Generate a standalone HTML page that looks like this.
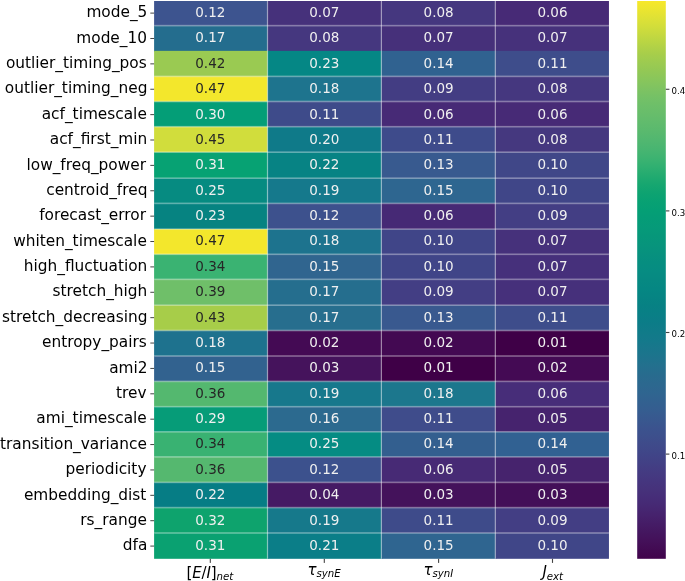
<!DOCTYPE html>
<html><head><meta charset="utf-8"><title>heatmap</title>
<style>html,body{margin:0;padding:0;background:#fff;}body{width:685px;height:581px;overflow:hidden;}svg{display:block;}</style>
</head><body>
<svg width="685" height="581" viewBox="0 0 685 581">
<rect x="0" y="0" width="685" height="581" fill="#ffffff"/>
<rect x="154.10" y="1.00" width="114.40" height="25.65" fill="#3d548f"/>
<rect x="267.50" y="1.00" width="114.90" height="25.65" fill="#46317b"/>
<rect x="381.40" y="1.00" width="114.95" height="25.65" fill="#45377f"/>
<rect x="495.35" y="1.00" width="113.60" height="25.65" fill="#472a76"/>
<rect x="154.10" y="25.65" width="114.40" height="26.20" fill="#246d8e"/>
<rect x="267.50" y="25.65" width="114.90" height="26.20" fill="#45377f"/>
<rect x="381.40" y="25.65" width="114.95" height="26.20" fill="#46307a"/>
<rect x="495.35" y="25.65" width="113.60" height="26.20" fill="#46317b"/>
<rect x="154.10" y="50.85" width="114.40" height="26.55" fill="#9aca52"/>
<rect x="267.50" y="50.85" width="114.90" height="26.55" fill="#058785"/>
<rect x="381.40" y="50.85" width="114.95" height="26.55" fill="#306290"/>
<rect x="495.35" y="50.85" width="113.60" height="26.55" fill="#3e4d8b"/>
<rect x="154.10" y="76.40" width="114.40" height="26.10" fill="#f3e72c"/>
<rect x="267.50" y="76.40" width="114.90" height="26.10" fill="#1e748e"/>
<rect x="381.40" y="76.40" width="114.95" height="26.10" fill="#433d83"/>
<rect x="495.35" y="76.40" width="113.60" height="26.10" fill="#45377f"/>
<rect x="154.10" y="101.50" width="114.40" height="26.20" fill="#049e77"/>
<rect x="267.50" y="101.50" width="114.90" height="26.20" fill="#3e4b8a"/>
<rect x="381.40" y="101.50" width="114.95" height="26.20" fill="#472a76"/>
<rect x="495.35" y="101.50" width="113.60" height="26.20" fill="#472a76"/>
<rect x="154.10" y="126.70" width="114.40" height="26.50" fill="#d1dd3c"/>
<rect x="267.50" y="126.70" width="114.90" height="26.50" fill="#0f7a89"/>
<rect x="381.40" y="126.70" width="114.95" height="26.50" fill="#3e4b8b"/>
<rect x="495.35" y="126.70" width="113.60" height="26.50" fill="#45387f"/>
<rect x="154.10" y="152.20" width="114.40" height="27.00" fill="#07a273"/>
<rect x="267.50" y="152.20" width="114.90" height="27.00" fill="#078384"/>
<rect x="381.40" y="152.20" width="114.95" height="27.00" fill="#385a8f"/>
<rect x="495.35" y="152.20" width="113.60" height="27.00" fill="#404788"/>
<rect x="154.10" y="178.20" width="114.40" height="26.20" fill="#068b81"/>
<rect x="267.50" y="178.20" width="114.90" height="26.20" fill="#15798c"/>
<rect x="381.40" y="178.20" width="114.95" height="26.20" fill="#2e6690"/>
<rect x="495.35" y="178.20" width="113.60" height="26.20" fill="#404688"/>
<rect x="154.10" y="203.40" width="114.40" height="26.70" fill="#068381"/>
<rect x="267.50" y="203.40" width="114.90" height="26.70" fill="#3d518d"/>
<rect x="381.40" y="203.40" width="114.95" height="26.70" fill="#462975"/>
<rect x="495.35" y="203.40" width="113.60" height="26.70" fill="#433e84"/>
<rect x="154.10" y="229.10" width="114.40" height="26.20" fill="#f3e72c"/>
<rect x="267.50" y="229.10" width="114.90" height="26.20" fill="#1d738e"/>
<rect x="381.40" y="229.10" width="114.95" height="26.20" fill="#404588"/>
<rect x="495.35" y="229.10" width="113.60" height="26.20" fill="#46317b"/>
<rect x="154.10" y="254.30" width="114.40" height="26.05" fill="#3ab372"/>
<rect x="267.50" y="254.30" width="114.90" height="26.05" fill="#30658f"/>
<rect x="381.40" y="254.30" width="114.95" height="26.05" fill="#404588"/>
<rect x="495.35" y="254.30" width="113.60" height="26.05" fill="#46307b"/>
<rect x="154.10" y="279.35" width="114.40" height="26.85" fill="#6fbf69"/>
<rect x="267.50" y="279.35" width="114.90" height="26.85" fill="#256e8e"/>
<rect x="381.40" y="279.35" width="114.95" height="26.85" fill="#433e84"/>
<rect x="495.35" y="279.35" width="113.60" height="26.85" fill="#46307b"/>
<rect x="154.10" y="305.20" width="114.40" height="26.30" fill="#a7cd49"/>
<rect x="267.50" y="305.20" width="114.90" height="26.30" fill="#276e8e"/>
<rect x="381.40" y="305.20" width="114.95" height="26.30" fill="#39598f"/>
<rect x="495.35" y="305.20" width="113.60" height="26.30" fill="#3e4d8b"/>
<rect x="154.10" y="330.50" width="114.40" height="26.50" fill="#1e728e"/>
<rect x="267.50" y="330.50" width="114.90" height="26.50" fill="#440a54"/>
<rect x="381.40" y="330.50" width="114.95" height="26.50" fill="#430952"/>
<rect x="495.35" y="330.50" width="113.60" height="26.50" fill="#3f0047"/>
<rect x="154.10" y="356.00" width="114.40" height="26.40" fill="#32628f"/>
<rect x="267.50" y="356.00" width="114.90" height="26.40" fill="#45135c"/>
<rect x="381.40" y="356.00" width="114.95" height="26.40" fill="#3f0047"/>
<rect x="495.35" y="356.00" width="113.60" height="26.40" fill="#440a54"/>
<rect x="154.10" y="381.40" width="114.40" height="26.30" fill="#54b86f"/>
<rect x="267.50" y="381.40" width="114.90" height="26.30" fill="#17788c"/>
<rect x="381.40" y="381.40" width="114.95" height="26.30" fill="#1c778d"/>
<rect x="495.35" y="381.40" width="113.60" height="26.30" fill="#472d79"/>
<rect x="154.10" y="406.70" width="114.40" height="26.10" fill="#069c78"/>
<rect x="267.50" y="406.70" width="114.90" height="26.10" fill="#2c6a8f"/>
<rect x="381.40" y="406.70" width="114.95" height="26.10" fill="#3f4c8b"/>
<rect x="495.35" y="406.70" width="113.60" height="26.10" fill="#46236e"/>
<rect x="154.10" y="431.80" width="114.40" height="26.10" fill="#39b272"/>
<rect x="267.50" y="431.80" width="114.90" height="26.10" fill="#058c83"/>
<rect x="381.40" y="431.80" width="114.95" height="26.10" fill="#335f8f"/>
<rect x="495.35" y="431.80" width="113.60" height="26.10" fill="#316192"/>
<rect x="154.10" y="456.90" width="114.40" height="26.50" fill="#55b86f"/>
<rect x="267.50" y="456.90" width="114.90" height="26.50" fill="#3c518d"/>
<rect x="381.40" y="456.90" width="114.95" height="26.50" fill="#472a75"/>
<rect x="495.35" y="456.90" width="113.60" height="26.50" fill="#46236d"/>
<rect x="154.10" y="482.40" width="114.40" height="26.20" fill="#067d85"/>
<rect x="267.50" y="482.40" width="114.90" height="26.20" fill="#451a64"/>
<rect x="381.40" y="482.40" width="114.95" height="26.20" fill="#44125b"/>
<rect x="495.35" y="482.40" width="113.60" height="26.20" fill="#430f58"/>
<rect x="154.10" y="507.60" width="114.40" height="26.40" fill="#0ea36d"/>
<rect x="267.50" y="507.60" width="114.90" height="26.40" fill="#16798b"/>
<rect x="381.40" y="507.60" width="114.95" height="26.40" fill="#3e4b8a"/>
<rect x="495.35" y="507.60" width="113.60" height="26.40" fill="#433e84"/>
<rect x="154.10" y="533.00" width="114.40" height="25.80" fill="#0aa171"/>
<rect x="267.50" y="533.00" width="114.90" height="25.80" fill="#0b7e88"/>
<rect x="381.40" y="533.00" width="114.95" height="25.80" fill="#2f6590"/>
<rect x="495.35" y="533.00" width="113.60" height="25.80" fill="#404688"/>
<rect x="154.10" y="24.85" width="454.85" height="1.6" fill="rgba(255,255,255,0.36)"/>
<rect x="154.10" y="75.60" width="454.85" height="1.6" fill="rgba(255,255,255,0.36)"/>
<rect x="154.10" y="100.70" width="454.85" height="1.6" fill="rgba(255,255,255,0.36)"/>
<rect x="154.10" y="125.90" width="454.85" height="1.6" fill="rgba(255,255,255,0.36)"/>
<rect x="154.10" y="151.40" width="454.85" height="1.6" fill="rgba(255,255,255,0.36)"/>
<rect x="154.10" y="177.40" width="454.85" height="1.6" fill="rgba(255,255,255,0.36)"/>
<rect x="154.10" y="202.60" width="454.85" height="1.6" fill="rgba(255,255,255,0.36)"/>
<rect x="154.10" y="228.30" width="454.85" height="1.6" fill="rgba(255,255,255,0.36)"/>
<rect x="154.10" y="253.50" width="454.85" height="1.6" fill="rgba(255,255,255,0.36)"/>
<rect x="154.10" y="278.55" width="454.85" height="1.6" fill="rgba(255,255,255,0.36)"/>
<rect x="154.10" y="304.40" width="454.85" height="1.6" fill="rgba(255,255,255,0.36)"/>
<rect x="154.10" y="329.70" width="454.85" height="1.6" fill="rgba(255,255,255,0.36)"/>
<rect x="154.10" y="355.20" width="454.85" height="1.6" fill="rgba(255,255,255,0.36)"/>
<rect x="154.10" y="380.60" width="454.85" height="1.6" fill="rgba(255,255,255,0.36)"/>
<rect x="154.10" y="405.90" width="454.85" height="1.6" fill="rgba(255,255,255,0.36)"/>
<rect x="154.10" y="431.00" width="454.85" height="1.6" fill="rgba(255,255,255,0.36)"/>
<rect x="154.10" y="456.10" width="454.85" height="1.6" fill="rgba(255,255,255,0.36)"/>
<rect x="154.10" y="481.60" width="454.85" height="1.6" fill="rgba(255,255,255,0.36)"/>
<rect x="154.10" y="506.80" width="454.85" height="1.6" fill="rgba(255,255,255,0.36)"/>
<rect x="154.10" y="532.20" width="454.85" height="1.6" fill="rgba(255,255,255,0.36)"/>
<rect x="266.90" y="1.00" width="1.2" height="557.80" fill="rgba(255,255,255,0.50)"/>
<rect x="380.80" y="1.00" width="1.2" height="557.80" fill="rgba(255,255,255,0.50)"/>
<rect x="494.75" y="1.00" width="1.2" height="557.80" fill="rgba(255,255,255,0.50)"/>
<g font-family="DejaVu Sans, Liberation Sans, sans-serif" font-size="13.5" text-anchor="middle">
<text transform="translate(210.30 17.00) scale(1 1.0)" fill="#f0f0f0">0.12</text>
<text transform="translate(324.30 17.00) scale(1 1.0)" fill="#f0f0f0">0.07</text>
<text transform="translate(438.60 17.00) scale(1 1.0)" fill="#f0f0f0">0.08</text>
<text transform="translate(552.50 17.00) scale(1 1.0)" fill="#f0f0f0">0.06</text>
<text transform="translate(210.30 42.38) scale(1 1.0)" fill="#f0f0f0">0.17</text>
<text transform="translate(324.30 42.38) scale(1 1.0)" fill="#f0f0f0">0.08</text>
<text transform="translate(438.60 42.38) scale(1 1.0)" fill="#f0f0f0">0.07</text>
<text transform="translate(552.50 42.38) scale(1 1.0)" fill="#f0f0f0">0.07</text>
<text transform="translate(210.30 67.76) scale(1 1.0)" fill="#262626">0.42</text>
<text transform="translate(324.30 67.76) scale(1 1.0)" fill="#f0f0f0">0.23</text>
<text transform="translate(438.60 67.76) scale(1 1.0)" fill="#f0f0f0">0.14</text>
<text transform="translate(552.50 67.76) scale(1 1.0)" fill="#f0f0f0">0.11</text>
<text transform="translate(210.30 93.14) scale(1 1.0)" fill="#262626">0.47</text>
<text transform="translate(324.30 93.14) scale(1 1.0)" fill="#f0f0f0">0.18</text>
<text transform="translate(438.60 93.14) scale(1 1.0)" fill="#f0f0f0">0.09</text>
<text transform="translate(552.50 93.14) scale(1 1.0)" fill="#f0f0f0">0.08</text>
<text transform="translate(210.30 118.52) scale(1 1.0)" fill="#f0f0f0">0.30</text>
<text transform="translate(324.30 118.52) scale(1 1.0)" fill="#f0f0f0">0.11</text>
<text transform="translate(438.60 118.52) scale(1 1.0)" fill="#f0f0f0">0.06</text>
<text transform="translate(552.50 118.52) scale(1 1.0)" fill="#f0f0f0">0.06</text>
<text transform="translate(210.30 143.90) scale(1 1.0)" fill="#262626">0.45</text>
<text transform="translate(324.30 143.90) scale(1 1.0)" fill="#f0f0f0">0.20</text>
<text transform="translate(438.60 143.90) scale(1 1.0)" fill="#f0f0f0">0.11</text>
<text transform="translate(552.50 143.90) scale(1 1.0)" fill="#f0f0f0">0.08</text>
<text transform="translate(210.30 169.28) scale(1 1.0)" fill="#f0f0f0">0.31</text>
<text transform="translate(324.30 169.28) scale(1 1.0)" fill="#f0f0f0">0.22</text>
<text transform="translate(438.60 169.28) scale(1 1.0)" fill="#f0f0f0">0.13</text>
<text transform="translate(552.50 169.28) scale(1 1.0)" fill="#f0f0f0">0.10</text>
<text transform="translate(210.30 194.66) scale(1 1.0)" fill="#f0f0f0">0.25</text>
<text transform="translate(324.30 194.66) scale(1 1.0)" fill="#f0f0f0">0.19</text>
<text transform="translate(438.60 194.66) scale(1 1.0)" fill="#f0f0f0">0.15</text>
<text transform="translate(552.50 194.66) scale(1 1.0)" fill="#f0f0f0">0.10</text>
<text transform="translate(210.30 220.04) scale(1 1.0)" fill="#f0f0f0">0.23</text>
<text transform="translate(324.30 220.04) scale(1 1.0)" fill="#f0f0f0">0.12</text>
<text transform="translate(438.60 220.04) scale(1 1.0)" fill="#f0f0f0">0.06</text>
<text transform="translate(552.50 220.04) scale(1 1.0)" fill="#f0f0f0">0.09</text>
<text transform="translate(210.30 245.42) scale(1 1.0)" fill="#262626">0.47</text>
<text transform="translate(324.30 245.42) scale(1 1.0)" fill="#f0f0f0">0.18</text>
<text transform="translate(438.60 245.42) scale(1 1.0)" fill="#f0f0f0">0.10</text>
<text transform="translate(552.50 245.42) scale(1 1.0)" fill="#f0f0f0">0.07</text>
<text transform="translate(210.30 270.80) scale(1 1.0)" fill="#262626">0.34</text>
<text transform="translate(324.30 270.80) scale(1 1.0)" fill="#f0f0f0">0.15</text>
<text transform="translate(438.60 270.80) scale(1 1.0)" fill="#f0f0f0">0.10</text>
<text transform="translate(552.50 270.80) scale(1 1.0)" fill="#f0f0f0">0.07</text>
<text transform="translate(210.30 296.18) scale(1 1.0)" fill="#262626">0.39</text>
<text transform="translate(324.30 296.18) scale(1 1.0)" fill="#f0f0f0">0.17</text>
<text transform="translate(438.60 296.18) scale(1 1.0)" fill="#f0f0f0">0.09</text>
<text transform="translate(552.50 296.18) scale(1 1.0)" fill="#f0f0f0">0.07</text>
<text transform="translate(210.30 321.56) scale(1 1.0)" fill="#262626">0.43</text>
<text transform="translate(324.30 321.56) scale(1 1.0)" fill="#f0f0f0">0.17</text>
<text transform="translate(438.60 321.56) scale(1 1.0)" fill="#f0f0f0">0.13</text>
<text transform="translate(552.50 321.56) scale(1 1.0)" fill="#f0f0f0">0.11</text>
<text transform="translate(210.30 346.94) scale(1 1.0)" fill="#f0f0f0">0.18</text>
<text transform="translate(324.30 346.94) scale(1 1.0)" fill="#f0f0f0">0.02</text>
<text transform="translate(438.60 346.94) scale(1 1.0)" fill="#f0f0f0">0.02</text>
<text transform="translate(552.50 346.94) scale(1 1.0)" fill="#f0f0f0">0.01</text>
<text transform="translate(210.30 372.32) scale(1 1.0)" fill="#f0f0f0">0.15</text>
<text transform="translate(324.30 372.32) scale(1 1.0)" fill="#f0f0f0">0.03</text>
<text transform="translate(438.60 372.32) scale(1 1.0)" fill="#f0f0f0">0.01</text>
<text transform="translate(552.50 372.32) scale(1 1.0)" fill="#f0f0f0">0.02</text>
<text transform="translate(210.30 397.70) scale(1 1.0)" fill="#262626">0.36</text>
<text transform="translate(324.30 397.70) scale(1 1.0)" fill="#f0f0f0">0.19</text>
<text transform="translate(438.60 397.70) scale(1 1.0)" fill="#f0f0f0">0.18</text>
<text transform="translate(552.50 397.70) scale(1 1.0)" fill="#f0f0f0">0.06</text>
<text transform="translate(210.30 423.08) scale(1 1.0)" fill="#f0f0f0">0.29</text>
<text transform="translate(324.30 423.08) scale(1 1.0)" fill="#f0f0f0">0.16</text>
<text transform="translate(438.60 423.08) scale(1 1.0)" fill="#f0f0f0">0.11</text>
<text transform="translate(552.50 423.08) scale(1 1.0)" fill="#f0f0f0">0.05</text>
<text transform="translate(210.30 448.46) scale(1 1.0)" fill="#262626">0.34</text>
<text transform="translate(324.30 448.46) scale(1 1.0)" fill="#f0f0f0">0.25</text>
<text transform="translate(438.60 448.46) scale(1 1.0)" fill="#f0f0f0">0.14</text>
<text transform="translate(552.50 448.46) scale(1 1.0)" fill="#f0f0f0">0.14</text>
<text transform="translate(210.30 473.84) scale(1 1.0)" fill="#262626">0.36</text>
<text transform="translate(324.30 473.84) scale(1 1.0)" fill="#f0f0f0">0.12</text>
<text transform="translate(438.60 473.84) scale(1 1.0)" fill="#f0f0f0">0.06</text>
<text transform="translate(552.50 473.84) scale(1 1.0)" fill="#f0f0f0">0.05</text>
<text transform="translate(210.30 499.22) scale(1 1.0)" fill="#f0f0f0">0.22</text>
<text transform="translate(324.30 499.22) scale(1 1.0)" fill="#f0f0f0">0.04</text>
<text transform="translate(438.60 499.22) scale(1 1.0)" fill="#f0f0f0">0.03</text>
<text transform="translate(552.50 499.22) scale(1 1.0)" fill="#f0f0f0">0.03</text>
<text transform="translate(210.30 524.60) scale(1 1.0)" fill="#f0f0f0">0.32</text>
<text transform="translate(324.30 524.60) scale(1 1.0)" fill="#f0f0f0">0.19</text>
<text transform="translate(438.60 524.60) scale(1 1.0)" fill="#f0f0f0">0.11</text>
<text transform="translate(552.50 524.60) scale(1 1.0)" fill="#f0f0f0">0.09</text>
<text transform="translate(210.30 549.98) scale(1 1.0)" fill="#f0f0f0">0.31</text>
<text transform="translate(324.30 549.98) scale(1 1.0)" fill="#f0f0f0">0.21</text>
<text transform="translate(438.60 549.98) scale(1 1.0)" fill="#f0f0f0">0.15</text>
<text transform="translate(552.50 549.98) scale(1 1.0)" fill="#f0f0f0">0.10</text>
</g>
<g font-family="DejaVu Sans, Liberation Sans, sans-serif" font-size="15.35" text-anchor="end" fill="#000">
<rect x="150.3" y="12.60" width="3.80" height="1.0" fill="#444444"/>
<text x="147.35" y="17.30">mode_5</text>
<rect x="150.3" y="37.98" width="3.80" height="1.0" fill="#444444"/>
<text x="147.03" y="42.68">mode_10</text>
<rect x="150.3" y="63.36" width="3.80" height="1.0" fill="#444444"/>
<text x="146.76" y="68.06">outlier_timing_pos</text>
<rect x="150.3" y="88.74" width="3.80" height="1.0" fill="#444444"/>
<text x="147.41" y="93.44">outlier_timing_neg</text>
<rect x="150.3" y="114.12" width="3.80" height="1.0" fill="#444444"/>
<text x="146.84" y="118.82">acf_timescale</text>
<rect x="150.3" y="139.50" width="3.80" height="1.0" fill="#444444"/>
<text x="147.31" y="144.20">acf_first_min</text>
<rect x="150.3" y="164.88" width="3.80" height="1.0" fill="#444444"/>
<text x="146.02" y="169.58">low_freq_power</text>
<rect x="150.3" y="190.26" width="3.80" height="1.0" fill="#444444"/>
<text x="147.41" y="194.96">centroid_freq</text>
<rect x="150.3" y="215.64" width="3.80" height="1.0" fill="#444444"/>
<text x="146.01" y="220.34">forecast_error</text>
<rect x="150.3" y="241.02" width="3.80" height="1.0" fill="#444444"/>
<text x="146.84" y="245.72">whiten_timescale</text>
<rect x="150.3" y="266.40" width="3.80" height="1.0" fill="#444444"/>
<text x="147.32" y="271.10">high_fluctuation</text>
<rect x="150.3" y="291.78" width="3.80" height="1.0" fill="#444444"/>
<text x="147.31" y="296.48">stretch_high</text>
<rect x="150.3" y="317.16" width="3.80" height="1.0" fill="#444444"/>
<text x="147.41" y="321.86">stretch_decreasing</text>
<rect x="150.3" y="342.54" width="3.80" height="1.0" fill="#444444"/>
<text x="146.77" y="347.24">entropy_pairs</text>
<rect x="150.3" y="367.92" width="3.80" height="1.0" fill="#444444"/>
<text x="147.55" y="372.62">ami2</text>
<rect x="150.3" y="393.30" width="3.80" height="1.0" fill="#444444"/>
<text x="146.47" y="398.00">trev</text>
<rect x="150.3" y="418.68" width="3.80" height="1.0" fill="#444444"/>
<text x="146.84" y="423.38">ami_timescale</text>
<rect x="150.3" y="444.06" width="3.80" height="1.0" fill="#444444"/>
<text x="146.83" y="448.76">transition_variance</text>
<rect x="150.3" y="469.44" width="3.80" height="1.0" fill="#444444"/>
<text x="146.47" y="474.14">periodicity</text>
<rect x="150.3" y="494.82" width="3.80" height="1.0" fill="#444444"/>
<text x="146.38" y="499.52">embedding_dist</text>
<rect x="150.3" y="520.20" width="3.80" height="1.0" fill="#444444"/>
<text x="146.83" y="524.90">rs_range</text>
<rect x="150.3" y="545.58" width="3.80" height="1.0" fill="#444444"/>
<text x="147.41" y="550.28">dfa</text>
</g>
<rect x="209.75" y="558.80" width="1.1" height="4.1" fill="#444444"/>
<rect x="323.75" y="558.80" width="1.1" height="4.1" fill="#444444"/>
<rect x="438.05" y="558.80" width="1.1" height="4.1" fill="#444444"/>
<rect x="551.95" y="558.80" width="1.1" height="4.1" fill="#444444"/>
<text font-family="DejaVu Sans, Liberation Sans, sans-serif" fill="#000"><tspan x="186.60" y="577.60" font-size="15.00">[</tspan><tspan x="192.30" y="577.60" font-style="oblique" font-size="15.00">E</tspan><tspan x="201.52" y="577.60" font-size="15.00">/</tspan><tspan x="206.44" y="577.60" font-style="oblique" font-size="15.00">I</tspan><tspan x="210.75" y="577.60" font-size="15.00">]</tspan><tspan x="216.58" y="580.06" font-style="oblique" font-size="10.20">n</tspan><tspan x="223.06" y="580.06" font-style="oblique" font-size="10.20">e</tspan><tspan x="229.35" y="580.06" font-style="oblique" font-size="10.20">t</tspan></text>
<text font-family="DejaVu Sans, Liberation Sans, sans-serif" fill="#000"><tspan x="307.60" y="574.60" font-style="oblique" font-size="15.00">τ</tspan><tspan x="316.39" y="577.06" font-style="oblique" font-size="10.20">s</tspan><tspan x="321.71" y="577.06" font-style="oblique" font-size="10.20">y</tspan><tspan x="327.76" y="577.06" font-style="oblique" font-size="10.20">n</tspan><tspan x="334.24" y="577.06" font-style="oblique" font-size="10.20">E</tspan></text>
<text font-family="DejaVu Sans, Liberation Sans, sans-serif" fill="#000"><tspan x="423.60" y="574.60" font-style="oblique" font-size="15.00">τ</tspan><tspan x="432.39" y="577.06" font-style="oblique" font-size="10.20">s</tspan><tspan x="437.71" y="577.06" font-style="oblique" font-size="10.20">y</tspan><tspan x="443.76" y="577.06" font-style="oblique" font-size="10.20">n</tspan><tspan x="450.24" y="577.06" font-style="oblique" font-size="10.20">I</tspan></text>
<text font-family="DejaVu Sans, Liberation Sans, sans-serif" fill="#000"><tspan x="542.40" y="577.10" font-style="oblique" font-size="15.00">J</tspan><tspan x="546.71" y="579.56" font-style="oblique" font-size="10.20">e</tspan><tspan x="552.99" y="579.56" font-style="oblique" font-size="10.20">x</tspan><tspan x="559.04" y="579.56" font-style="oblique" font-size="10.20">t</tspan></text>
<defs><linearGradient id="cb" x1="0" y1="1" x2="0" y2="0">
<stop offset="0.0000" stop-color="#41034b"/>
<stop offset="0.0156" stop-color="#420a52"/>
<stop offset="0.0312" stop-color="#441059"/>
<stop offset="0.0469" stop-color="#44165f"/>
<stop offset="0.0625" stop-color="#451c66"/>
<stop offset="0.0781" stop-color="#46226d"/>
<stop offset="0.0938" stop-color="#462873"/>
<stop offset="0.1094" stop-color="#462d78"/>
<stop offset="0.1250" stop-color="#46327b"/>
<stop offset="0.1406" stop-color="#45367f"/>
<stop offset="0.1562" stop-color="#443b82"/>
<stop offset="0.1719" stop-color="#424085"/>
<stop offset="0.1875" stop-color="#404588"/>
<stop offset="0.2031" stop-color="#3f4a8a"/>
<stop offset="0.2188" stop-color="#3d4f8c"/>
<stop offset="0.2344" stop-color="#3b538e"/>
<stop offset="0.2500" stop-color="#38588f"/>
<stop offset="0.2656" stop-color="#355d90"/>
<stop offset="0.2812" stop-color="#326190"/>
<stop offset="0.2969" stop-color="#2f6590"/>
<stop offset="0.3125" stop-color="#2c688f"/>
<stop offset="0.3281" stop-color="#286b8e"/>
<stop offset="0.3438" stop-color="#246f8e"/>
<stop offset="0.3594" stop-color="#1e738d"/>
<stop offset="0.3750" stop-color="#19768c"/>
<stop offset="0.3906" stop-color="#14798b"/>
<stop offset="0.4062" stop-color="#107b89"/>
<stop offset="0.4219" stop-color="#0c7c88"/>
<stop offset="0.4375" stop-color="#097f86"/>
<stop offset="0.4531" stop-color="#078184"/>
<stop offset="0.4688" stop-color="#068483"/>
<stop offset="0.4844" stop-color="#058783"/>
<stop offset="0.5000" stop-color="#068982"/>
<stop offset="0.5156" stop-color="#068c82"/>
<stop offset="0.5312" stop-color="#068e80"/>
<stop offset="0.5469" stop-color="#07917e"/>
<stop offset="0.5625" stop-color="#07947c"/>
<stop offset="0.5781" stop-color="#06977a"/>
<stop offset="0.5938" stop-color="#069a79"/>
<stop offset="0.6094" stop-color="#059c77"/>
<stop offset="0.6250" stop-color="#059f75"/>
<stop offset="0.6406" stop-color="#08a173"/>
<stop offset="0.6562" stop-color="#0ea371"/>
<stop offset="0.6719" stop-color="#17a770"/>
<stop offset="0.6875" stop-color="#23ab70"/>
<stop offset="0.7031" stop-color="#30b071"/>
<stop offset="0.7188" stop-color="#3db371"/>
<stop offset="0.7344" stop-color="#48b571"/>
<stop offset="0.7500" stop-color="#51b770"/>
<stop offset="0.7656" stop-color="#59b96e"/>
<stop offset="0.7812" stop-color="#60bb6d"/>
<stop offset="0.7969" stop-color="#67bd6b"/>
<stop offset="0.8125" stop-color="#6dbf69"/>
<stop offset="0.8281" stop-color="#75c166"/>
<stop offset="0.8438" stop-color="#7fc361"/>
<stop offset="0.8594" stop-color="#89c65b"/>
<stop offset="0.8750" stop-color="#93c855"/>
<stop offset="0.8906" stop-color="#9dcb50"/>
<stop offset="0.9062" stop-color="#a8ce4a"/>
<stop offset="0.9219" stop-color="#b5d345"/>
<stop offset="0.9375" stop-color="#c3d840"/>
<stop offset="0.9531" stop-color="#d1dd3b"/>
<stop offset="0.9688" stop-color="#dee136"/>
<stop offset="0.9844" stop-color="#ebe530"/>
<stop offset="1.0000" stop-color="#f7e82a"/>
</linearGradient></defs>
<rect x="637.2" y="1.0" width="28.60" height="557.80" fill="url(#cb)"/>
<g font-family="DejaVu Sans, Liberation Sans, sans-serif" font-size="8.6" fill="#000">
<rect x="665.80" y="453.55" width="3.6" height="1.1" fill="#444444"/>
<text x="671.5" y="458.80">0.1</text>
<rect x="665.80" y="331.94" width="3.6" height="1.1" fill="#444444"/>
<text x="671.5" y="337.19">0.2</text>
<rect x="665.80" y="210.34" width="3.6" height="1.1" fill="#444444"/>
<text x="671.5" y="215.59">0.3</text>
<rect x="665.80" y="88.73" width="3.6" height="1.1" fill="#444444"/>
<text x="671.5" y="93.98">0.4</text>
</g>
</svg>
</body></html>
